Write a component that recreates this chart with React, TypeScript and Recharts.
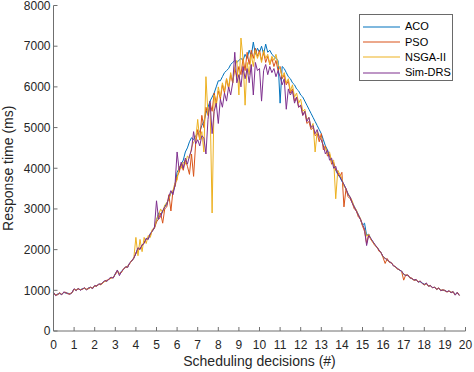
import React from 'react';
import { LineChart, Line, XAxis, YAxis, Legend, Label } from 'recharts';

// Response time (ms) per scheduling decision; samples every 0.1 decision unit from 0 to 19.7
const aco: number[] = [
  940, 880, 910, 920, 900, 950, 930, 930, 910, 940,
  1030, 1000, 1040, 1010, 1040, 1050, 1020, 1060, 1070, 1050,
  1110, 1110, 1150, 1150, 1190, 1230, 1230, 1280, 1310, 1310,
  1410, 1480, 1400, 1470, 1510, 1570, 1580, 1670, 1720, 1790,
  1910, 2030, 2010, 2110, 2160, 2270, 2260, 2390, 2460, 2540,
  2710, 2900, 2850, 2950, 3050, 3150, 3250, 3400, 3400, 3580,
  3900, 4000, 4100, 4200, 4400, 4500, 4650, 4750, 4700, 4800,
  4850, 4900, 5050, 5150, 5350, 5500, 5650, 5750, 5850, 6000,
  6150, 6150, 6250, 6350, 6400, 6450, 6550, 6600, 6650, 6600,
  6650, 6700, 6650, 6800, 6700, 6900, 6750, 7100, 6800, 6950,
  6850, 7000, 6800, 7050, 6850, 6900, 6800, 6750, 6700, 6650,
  5600, 6500, 6450, 6350, 6250, 6200, 6100, 6050, 5950, 5900,
  5800, 5750, 5650, 5550, 5450, 5350, 5250, 5150, 5050, 4950,
  4850, 4700, 4550, 4450, 4300, 4200, 4100, 3950, 3850, 3780,
  3680, 3600, 3480, 3380, 3280, 3160, 3060, 2960, 2860, 2740,
  2600, 2650, 2350, 2380, 2270, 2200, 2120, 2060, 1990, 1930,
  1820, 1790, 1740, 1710, 1670, 1610, 1570, 1540, 1490, 1470,
  1390, 1370, 1360, 1320, 1280, 1260, 1250, 1210, 1210, 1180,
  1150, 1160, 1110, 1110, 1070, 1070, 1030, 1050, 1000, 1000,
  990, 970, 980, 950, 960, 900, 940, 880,
];

const pso: number[] = [
  930, 890, 890, 940, 900, 950, 950, 910, 920, 940,
  1020, 1010, 1030, 1020, 1020, 1060, 1030, 1040, 1070, 1060,
  1100, 1120, 1140, 1160, 1180, 1230, 1250, 1270, 1300, 1320,
  1390, 1460, 1420, 1440, 1530, 1560, 1600, 1650, 1740, 1780,
  1920, 2000, 2040, 2090, 2180, 2250, 2300, 2350, 2480, 2520,
  2680, 2750, 2900, 2650, 3000, 3050, 3350, 2950, 3450, 3550,
  3800, 3900, 4100, 3950, 4200, 4050, 3850, 4350, 3800, 4600,
  4950, 4700, 5300, 5000, 5500, 5300, 5600, 5400, 5850, 5600,
  5900, 5700, 6050, 5850, 6200, 5950, 6300, 6100, 6450, 6250,
  6500, 6300, 6700, 6400, 6850, 6550, 6900, 6700, 6950, 6750,
  6900, 6650, 6850, 6600, 6750, 6550, 6700, 6500, 6650, 6400,
  6500, 6200, 6300, 6050, 6150, 5850, 5950, 5650, 5750, 5500,
  5550, 5300, 5400, 5100, 5150, 4950, 5000, 4800, 4850, 4650,
  4850, 4450, 4550, 4300, 4350, 4100, 4150, 3950, 3900, 3800,
  3900, 3050, 3500, 3300, 3250, 3150, 3000, 2950, 2800, 2750,
  2580, 2450, 2150, 2380, 2250, 2180, 2100, 2070, 1960, 1930,
  1800, 1660, 1780, 1690, 1670, 1620, 1570, 1520, 1510, 1460,
  1250, 1380, 1370, 1300, 1300, 1240, 1260, 1210, 1220, 1170,
  1130, 1170, 1110, 1110, 1070, 1070, 1030, 1050, 1000, 1010,
  990, 960, 980, 950, 960, 890, 940, 880,
];

const nsga: number[] = [
  940, 880, 900, 930, 900, 950, 940, 920, 910, 950,
  1030, 1000, 1040, 1010, 1030, 1050, 1020, 1050, 1070, 1050,
  1110, 1100, 1150, 1130, 1190, 1220, 1230, 1280, 1310, 1310,
  1400, 1490, 1390, 1450, 1520, 1570, 1570, 1670, 1720, 1800,
  2300, 1850, 2250, 1950, 2300, 2150, 2350, 2300, 2500, 2550,
  2750, 2850, 3000, 2900, 3100, 3150, 3250, 3400, 3450, 3650,
  3700, 4050, 4000, 4150, 4100, 4300, 4250, 4500, 4650, 4700,
  5200, 4700, 4900, 4400, 6250, 5300, 5600, 2900, 5800, 5500,
  6000, 5750, 6100, 5900, 6200, 6000, 6350, 6100, 6500, 6650,
  5800, 7200, 6700, 5550, 6600, 6300, 6800, 6500, 6900, 6700,
  6850, 6600, 6900, 6700, 6800, 6550, 6750, 6650, 6800, 6550,
  6450, 6250, 6350, 6100, 6200, 5900, 6050, 5750, 5850, 5600,
  5700, 5400, 5450, 5200, 5250, 5000, 5100, 4400, 4900, 4800,
  4700, 4550, 4500, 4350, 4400, 4150, 4200, 3250, 3950, 3850,
  3750, 3550, 3500, 3350, 3300, 3200, 3050, 2980, 2850, 2770,
  2600, 2500, 2330, 2370, 2260, 2190, 2110, 2060, 1990, 1920,
  1820, 1790, 1750, 1700, 1680, 1600, 1580, 1530, 1500, 1470,
  1390, 1370, 1370, 1310, 1290, 1250, 1270, 1200, 1230, 1170,
  1140, 1170, 1100, 1120, 1060, 1080, 1020, 1060, 990, 1010,
  1000, 960, 985, 945, 965, 885, 945, 875,
];

const simDrs: number[] = [
  950, 870, 900, 930, 890, 960, 940, 920, 900, 950,
  1040, 990, 1050, 1000, 1030, 1060, 1010, 1050, 1080, 1040,
  1120, 1100, 1160, 1140, 1200, 1240, 1220, 1290, 1320, 1300,
  1400, 1500, 1360, 1460, 1520, 1580, 1560, 1680, 1720, 1800,
  1900, 2050, 2000, 2120, 2150, 2280, 2250, 2400, 2450, 2550,
  3200, 2750, 2800, 2950, 3050, 3100, 3300, 3450, 3350, 3600,
  4400, 3950, 4150, 4000, 4250, 4100, 4300, 4450, 4900, 4600,
  4700, 4550, 4800, 4750, 4350, 5200, 5650, 4850, 5400, 5600,
  5100, 5700, 5500, 5850, 5650, 6000, 5800, 6100, 6850, 6100,
  6300, 6000, 6500, 6200, 6450, 6100, 6550, 5800, 6600, 6400,
  6450, 5650, 6400, 6550, 6300, 6500, 6350, 6450, 6250, 6400,
  6250, 6050, 6200, 5450, 5950, 5800, 5900, 5600, 5750, 5500,
  5550, 5300, 5400, 5150, 5250, 5000, 5050, 4850, 4950, 4750,
  4700, 4550, 4350, 4450, 4200, 4250, 4000, 4050, 3850, 3800,
  3700, 3600, 3500, 3350, 3300, 3150, 3050, 2950, 2850, 2750,
  2620, 2500, 2100, 2350, 2280, 2200, 2130, 2060, 1990, 1920,
  1830, 1780, 1760, 1700, 1680, 1600, 1580, 1530, 1500, 1470,
  1400, 1360, 1380, 1310, 1290, 1250, 1270, 1200, 1230, 1170,
  1140, 1180, 1100, 1120, 1060, 1080, 1020, 1060, 990, 1010,
  1000, 960, 990, 940, 970, 880, 950, 870,
];

const xTicks = [0, 1, 2, 3, 4, 5, 6, 7, 8, 9, 10, 11, 12, 13, 14, 15, 16, 17, 18, 19, 20];
const yTicks = [0, 1000, 2000, 3000, 4000, 5000, 6000, 7000, 8000];

const seriesNames = ['ACO', 'PSO', 'NSGA-II', 'Sim-DRS'];
const seriesKeys = ['aco', 'pso', 'nsga', 'simDrs'];
const seriesColors = ['#0072BD', '#D95319', '#EDB120', '#7E2F8E'];

const rows = simDrs.map((_, i) => ({
  x: Math.round(i) / 10,
  aco: aco[i],
  pso: pso[i],
  nsga: nsga[i],
  simDrs: simDrs[i],
}));

const FONT = '"Liberation Sans", Arial, Helvetica, sans-serif';
const AXIS = '#6f6f6f';
const TXT = '#262626';

const renderLegend = () => (
  <div
    style={{
      width: 94,
      height: 67,
      boxSizing: 'border-box',
      border: '1px solid #6a6a6a',
      background: '#fff',
      paddingTop: 4,
      fontFamily: FONT,
      fontSize: 11,
      color: '#000',
    }}
  >
    {seriesNames.map((n, i) => (
      <div key={n} style={{ display: 'flex', alignItems: 'center', height: 15.4 }}>
        <svg width={45} height={6} style={{ display: 'block' }}>
          <line x1={3} x2={40} y1={3} y2={3} stroke={seriesColors[i]} strokeWidth={1.2} />
        </svg>
        <span style={{ lineHeight: '15px' }}>{n}</span>
      </div>
    ))}
  </div>
);

export default function App() {
  return (
    <div style={{ position: 'absolute', left: 0, top: 0, width: 474, height: 372, background: '#fff' }}>
      <LineChart
        width={474}
        height={372}
        data={rows}
        margin={{ top: 5.5, right: 8.5, left: 0, bottom: 0 }}
        style={{ fontFamily: FONT }}
      >
        <XAxis
          xAxisId="b"
          dataKey="x"
          type="number"
          domain={[0, 20]}
          ticks={xTicks}
          interval={0}
          height={41}
          tickSize={-4}
          tickMargin={13.5}
          stroke={AXIS}
          tick={{ fill: TXT, fontSize: 12 }}
        >
          <Label
            value="Scheduling decisions (#)"
            position="insideBottom"
            offset={6}
            style={{ fontSize: 14, fill: TXT }}
          />
        </XAxis>
        <XAxis
          xAxisId="t"
          orientation="top"
          dataKey="x"
          type="number"
          domain={[0, 20]}
          ticks={xTicks}
          interval={0}
          height={0}
          tickSize={-4}
          stroke={AXIS}
          tickFormatter={() => ''}
        />
        <YAxis
          yAxisId="l"
          type="number"
          domain={[0, 8000]}
          ticks={yTicks}
          interval={0}
          width={53.5}
          tickSize={-4}
          tickMargin={7}
          stroke={AXIS}
          tick={{ fill: TXT, fontSize: 12 }}
        >
          <Label
            value="Response time (ms)"
            angle={-90}
            position="insideLeft"
            offset={8}
            style={{ fontSize: 14, fill: TXT, textAnchor: 'middle' }}
          />
        </YAxis>
        <YAxis
          yAxisId="r"
          orientation="right"
          type="number"
          domain={[0, 8000]}
          ticks={yTicks}
          interval={0}
          width={0}
          tickSize={-4}
          stroke={AXIS}
          tickFormatter={() => ''}
        />
        {seriesKeys.map((k, i) => (
          <Line
            key={k}
            xAxisId="b"
            yAxisId="l"
            type="linear"
            dataKey={k}
            name={seriesNames[i]}
            stroke={seriesColors[i]}
            strokeWidth={1}
            dot={false}
            activeDot={false}
            isAnimationActive={false}
          />
        ))}
        <Legend
          layout="vertical"
          align="center"
          verticalAlign="middle"
          content={renderLegend}
          wrapperStyle={{ left: 359, top: 14, width: 94 }}
        />
      </LineChart>
    </div>
  );
}
